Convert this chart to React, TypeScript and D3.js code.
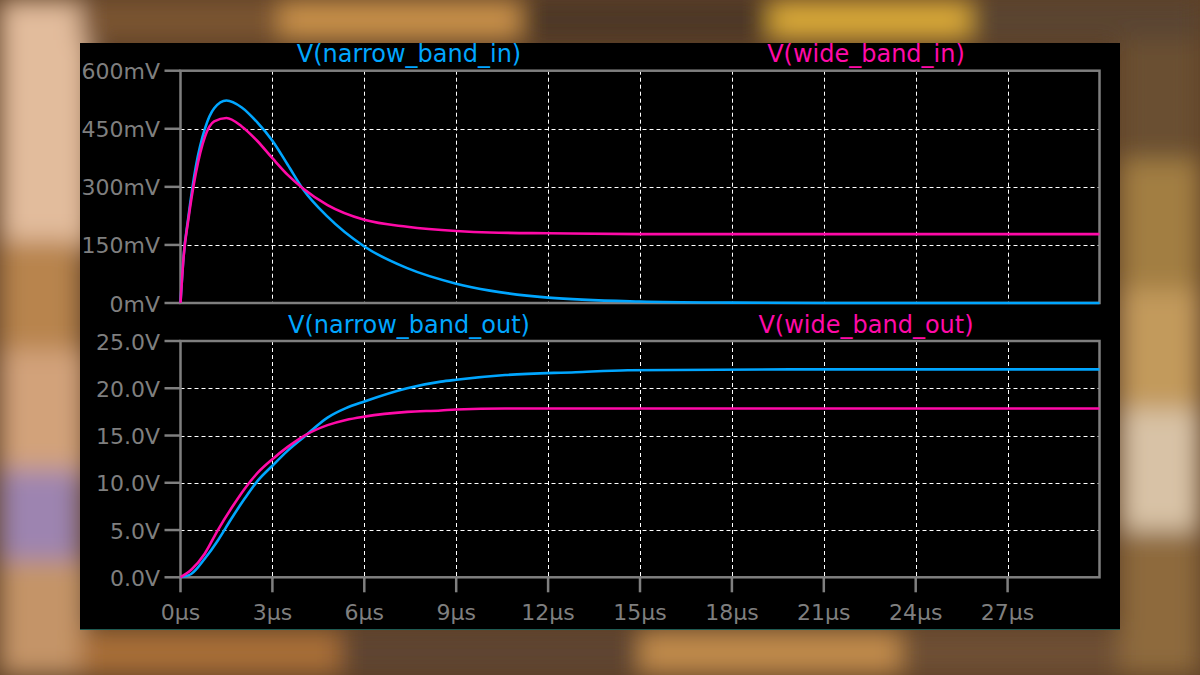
import React, { useEffect, useRef } from 'react';
import * as d3 from 'd3';

// transient simulation samples, time in μs
const topTimes = [0, 0.1, 0.25, 0.5, 0.8, 1.1, 1.5, 2.0, 2.5, 3.0, 3.5, 4.0, 4.8, 6.0, 7.4, 9.0, 10.1, 12, 15, 18, 21, 30];
const narrowBandIn = [0, 120, 218, 352, 451, 503, 523, 505, 467, 419, 357, 294, 223, 146, 90, 50, 32, 14, 4, 1, 0, 0]; // mV
const wideBandIn = [0, 118, 212, 335, 430, 469, 478, 456, 419, 374, 331, 296, 253, 215, 197, 186, 182, 180, 178, 178, 178, 178]; // mV

const bottomTimes = [0, 0.35, 0.79, 1.22, 1.66, 2.09, 2.53, 3.0, 3.5, 4.05, 4.8, 5.4, 6.0, 7.4, 8.5, 9.0, 10.6, 12.9, 14.6, 20, 30];
const narrowBandOut = [0, 0.35, 1.96, 3.9, 6.2, 8.3, 10.25, 11.8, 13.4, 14.9, 16.9, 17.9, 18.6, 20.0, 20.7, 20.9, 21.4, 21.7, 21.9, 22.0, 22.0]; // V
const wideBandOut = [0, 0.8, 2.5, 5.0, 7.3, 9.35, 11.1, 12.5, 13.8, 15.0, 16.1, 16.65, 17.0, 17.5, 17.65, 17.75, 17.86, 17.86, 17.86, 17.86, 17.86]; // V

const timeTicks = [0, 3, 6, 9, 12, 15, 18, 21, 24, 27];
const topTicks = [0, 150, 300, 450, 600];
const bottomTicks = [0, 5, 10, 15, 20, 25];

const BLUE = '#00a6ff';
const MAGENTA = '#ff0aa8';
const GRAY = '#7f7f7f';
const FONT = '"DejaVu Sans", Verdana, sans-serif';

const App: React.FC = () => {
  const svgRef = useRef<SVGSVGElement>(null);

  useEffect(() => {
    if (!svgRef.current) return;
    const svg = d3.select(svgRef.current);
    svg.selectAll('*').remove();

    // blurred stand-in for the photo behind the plot
    const defs = svg.append('defs');
    defs
      .append('filter')
      .attr('id', 'bgblur')
      .attr('x', '-10%')
      .attr('y', '-10%')
      .attr('width', '120%')
      .attr('height', '120%')
      .append('feGaussianBlur')
      .attr('stdDeviation', 12);
    svg.append('rect').attr('width', 1200).attr('height', 675).attr('fill', '#5e4026');
    const bg = svg.append('g').attr('filter', 'url(#bgblur)');
    const blobs: [number, number, number, number, string][] = [
      [0, 0, 90, 250, '#e2bc9c'],
      [0, 240, 80, 120, '#b8844e'],
      [0, 350, 85, 130, '#d2a27a'],
      [0, 470, 80, 100, '#9d84b0'],
      [0, 560, 85, 115, '#c49468'],
      [80, 0, 200, 40, '#7a5430'],
      [280, 0, 240, 40, '#c89048'],
      [520, 0, 250, 40, '#4e3826'],
      [770, 0, 200, 40, '#d8a838'],
      [970, 0, 230, 40, '#5a4430'],
      [1120, 40, 80, 120, '#6a5032'],
      [1120, 160, 80, 130, '#a27e42'],
      [1120, 290, 80, 120, '#c29a5c'],
      [1120, 410, 80, 120, '#d8c2a6'],
      [1120, 530, 80, 145, '#8e6a3e'],
      [80, 630, 260, 45, '#a86e38'],
      [340, 630, 300, 45, '#5e4430'],
      [640, 630, 260, 45, '#c08a4c'],
      [900, 630, 220, 45, '#6e5034'],
    ];
    bg.selectAll('rect')
      .data(blobs)
      .enter()
      .append('rect')
      .attr('x', (d) => d[0])
      .attr('y', (d) => d[1])
      .attr('width', (d) => d[2])
      .attr('height', (d) => d[3])
      .attr('fill', (d) => d[4]);

    // black plot window
    svg.append('rect').attr('x', 80).attr('y', 43).attr('width', 1040).attr('height', 587).attr('fill', '#000');
    svg.append('line').attr('x1', 80).attr('x2', 1120).attr('y1', 629.5).attr('y2', 629.5).attr('stroke', '#1e5a52').attr('stroke-width', 1);

    const x = d3.scaleLinear().domain([0, 30]).range([180.5, 1099.5]);
    const yTop = d3.scaleLinear().domain([0, 600]).range([303, 70.7]);
    const yBottom = d3.scaleLinear().domain([0, 25]).range([577.3, 341]);

    const drawPane = (
      y: d3.ScaleLinear<number, number>,
      ticks: number[],
      fmt: (v: number) => string,
      times: number[],
      blue: number[],
      magenta: number[],
      titles: [string, string],
      titleY: number,
      withTimeAxis: boolean
    ) => {
      const g = svg.append('g');
      const [y0, y1] = y.range();
      const grid = g.append('g').attr('stroke', '#fff').attr('stroke-width', 1).attr('stroke-dasharray', '4,3');
      grid
        .selectAll('.vg')
        .data(timeTicks.slice(1))
        .enter()
        .append('line')
        .attr('x1', (d) => Math.round(x(d)) + 0.5)
        .attr('x2', (d) => Math.round(x(d)) + 0.5)
        .attr('y1', y1)
        .attr('y2', y0);
      grid
        .selectAll('.hg')
        .data(ticks.slice(1, -1))
        .enter()
        .append('line')
        .attr('x1', x(0))
        .attr('x2', x(30))
        .attr('y1', (d) => Math.round(y(d)) + 0.5)
        .attr('y2', (d) => Math.round(y(d)) + 0.5);

      // frame and ticks
      g.append('rect')
        .attr('x', x(0))
        .attr('y', y1)
        .attr('width', x(30) - x(0))
        .attr('height', y0 - y1)
        .attr('fill', 'none')
        .attr('stroke', GRAY)
        .attr('stroke-width', 2.5);
      g.selectAll('.yt')
        .data(ticks)
        .enter()
        .append('line')
        .attr('x1', x(0) - 16)
        .attr('x2', x(0))
        .attr('y1', (d) => y(d))
        .attr('y2', (d) => y(d))
        .attr('stroke', GRAY)
        .attr('stroke-width', 2.5);
      g.selectAll('.yl')
        .data(ticks)
        .enter()
        .append('text')
        .attr('x', 160)
        .attr('y', (d) => y(d) + 8.5)
        .attr('text-anchor', 'end')
        .attr('font-family', FONT)
        .attr('font-size', 22)
        .attr('fill', GRAY)
        .text(fmt);

      if (withTimeAxis) {
        g.selectAll('.xt')
          .data(timeTicks)
          .enter()
          .append('line')
          .attr('x1', (d) => x(d))
          .attr('x2', (d) => x(d))
          .attr('y1', y0)
          .attr('y2', y0 + 15)
          .attr('stroke', GRAY)
          .attr('stroke-width', 2.5);
        g.selectAll('.xl')
          .data(timeTicks)
          .enter()
          .append('text')
          .attr('x', (d) => x(d))
          .attr('y', 620)
          .attr('text-anchor', 'middle')
          .attr('font-family', FONT)
          .attr('font-size', 22)
          .attr('fill', GRAY)
          .text((d) => `${d}μs`);
      }

      const line = d3
        .line<number>()
        .x((_, i) => x(times[i]))
        .y((d) => y(d))
        .curve(d3.curveMonotoneX);
      g.append('path').datum(blue).attr('fill', 'none').attr('stroke', BLUE).attr('stroke-width', 2.6).attr('d', line);
      g.append('path').datum(magenta).attr('fill', 'none').attr('stroke', MAGENTA).attr('stroke-width', 2.6).attr('d', line);

      g.append('text')
        .attr('x', 409)
        .attr('y', titleY)
        .attr('text-anchor', 'middle')
        .attr('font-family', FONT)
        .attr('font-size', 24)
        .attr('fill', BLUE)
        .text(titles[0]);
      g.append('text')
        .attr('x', 866)
        .attr('y', titleY)
        .attr('text-anchor', 'middle')
        .attr('font-family', FONT)
        .attr('font-size', 24)
        .attr('fill', MAGENTA)
        .text(titles[1]);
    };

    drawPane(yTop, topTicks, (v) => `${v}mV`, topTimes, narrowBandIn, wideBandIn, ['V(narrow_band_in)', 'V(wide_band_in)'], 62, false);
    drawPane(yBottom, bottomTicks, (v) => `${v.toFixed(1)}V`, bottomTimes, narrowBandOut, wideBandOut, ['V(narrow_band_out)', 'V(wide_band_out)'], 333, true);
  }, []);

  return <svg ref={svgRef} width={1200} height={675} style={{ position: 'absolute', left: 0, top: 0 }} />;
};

export default App;
